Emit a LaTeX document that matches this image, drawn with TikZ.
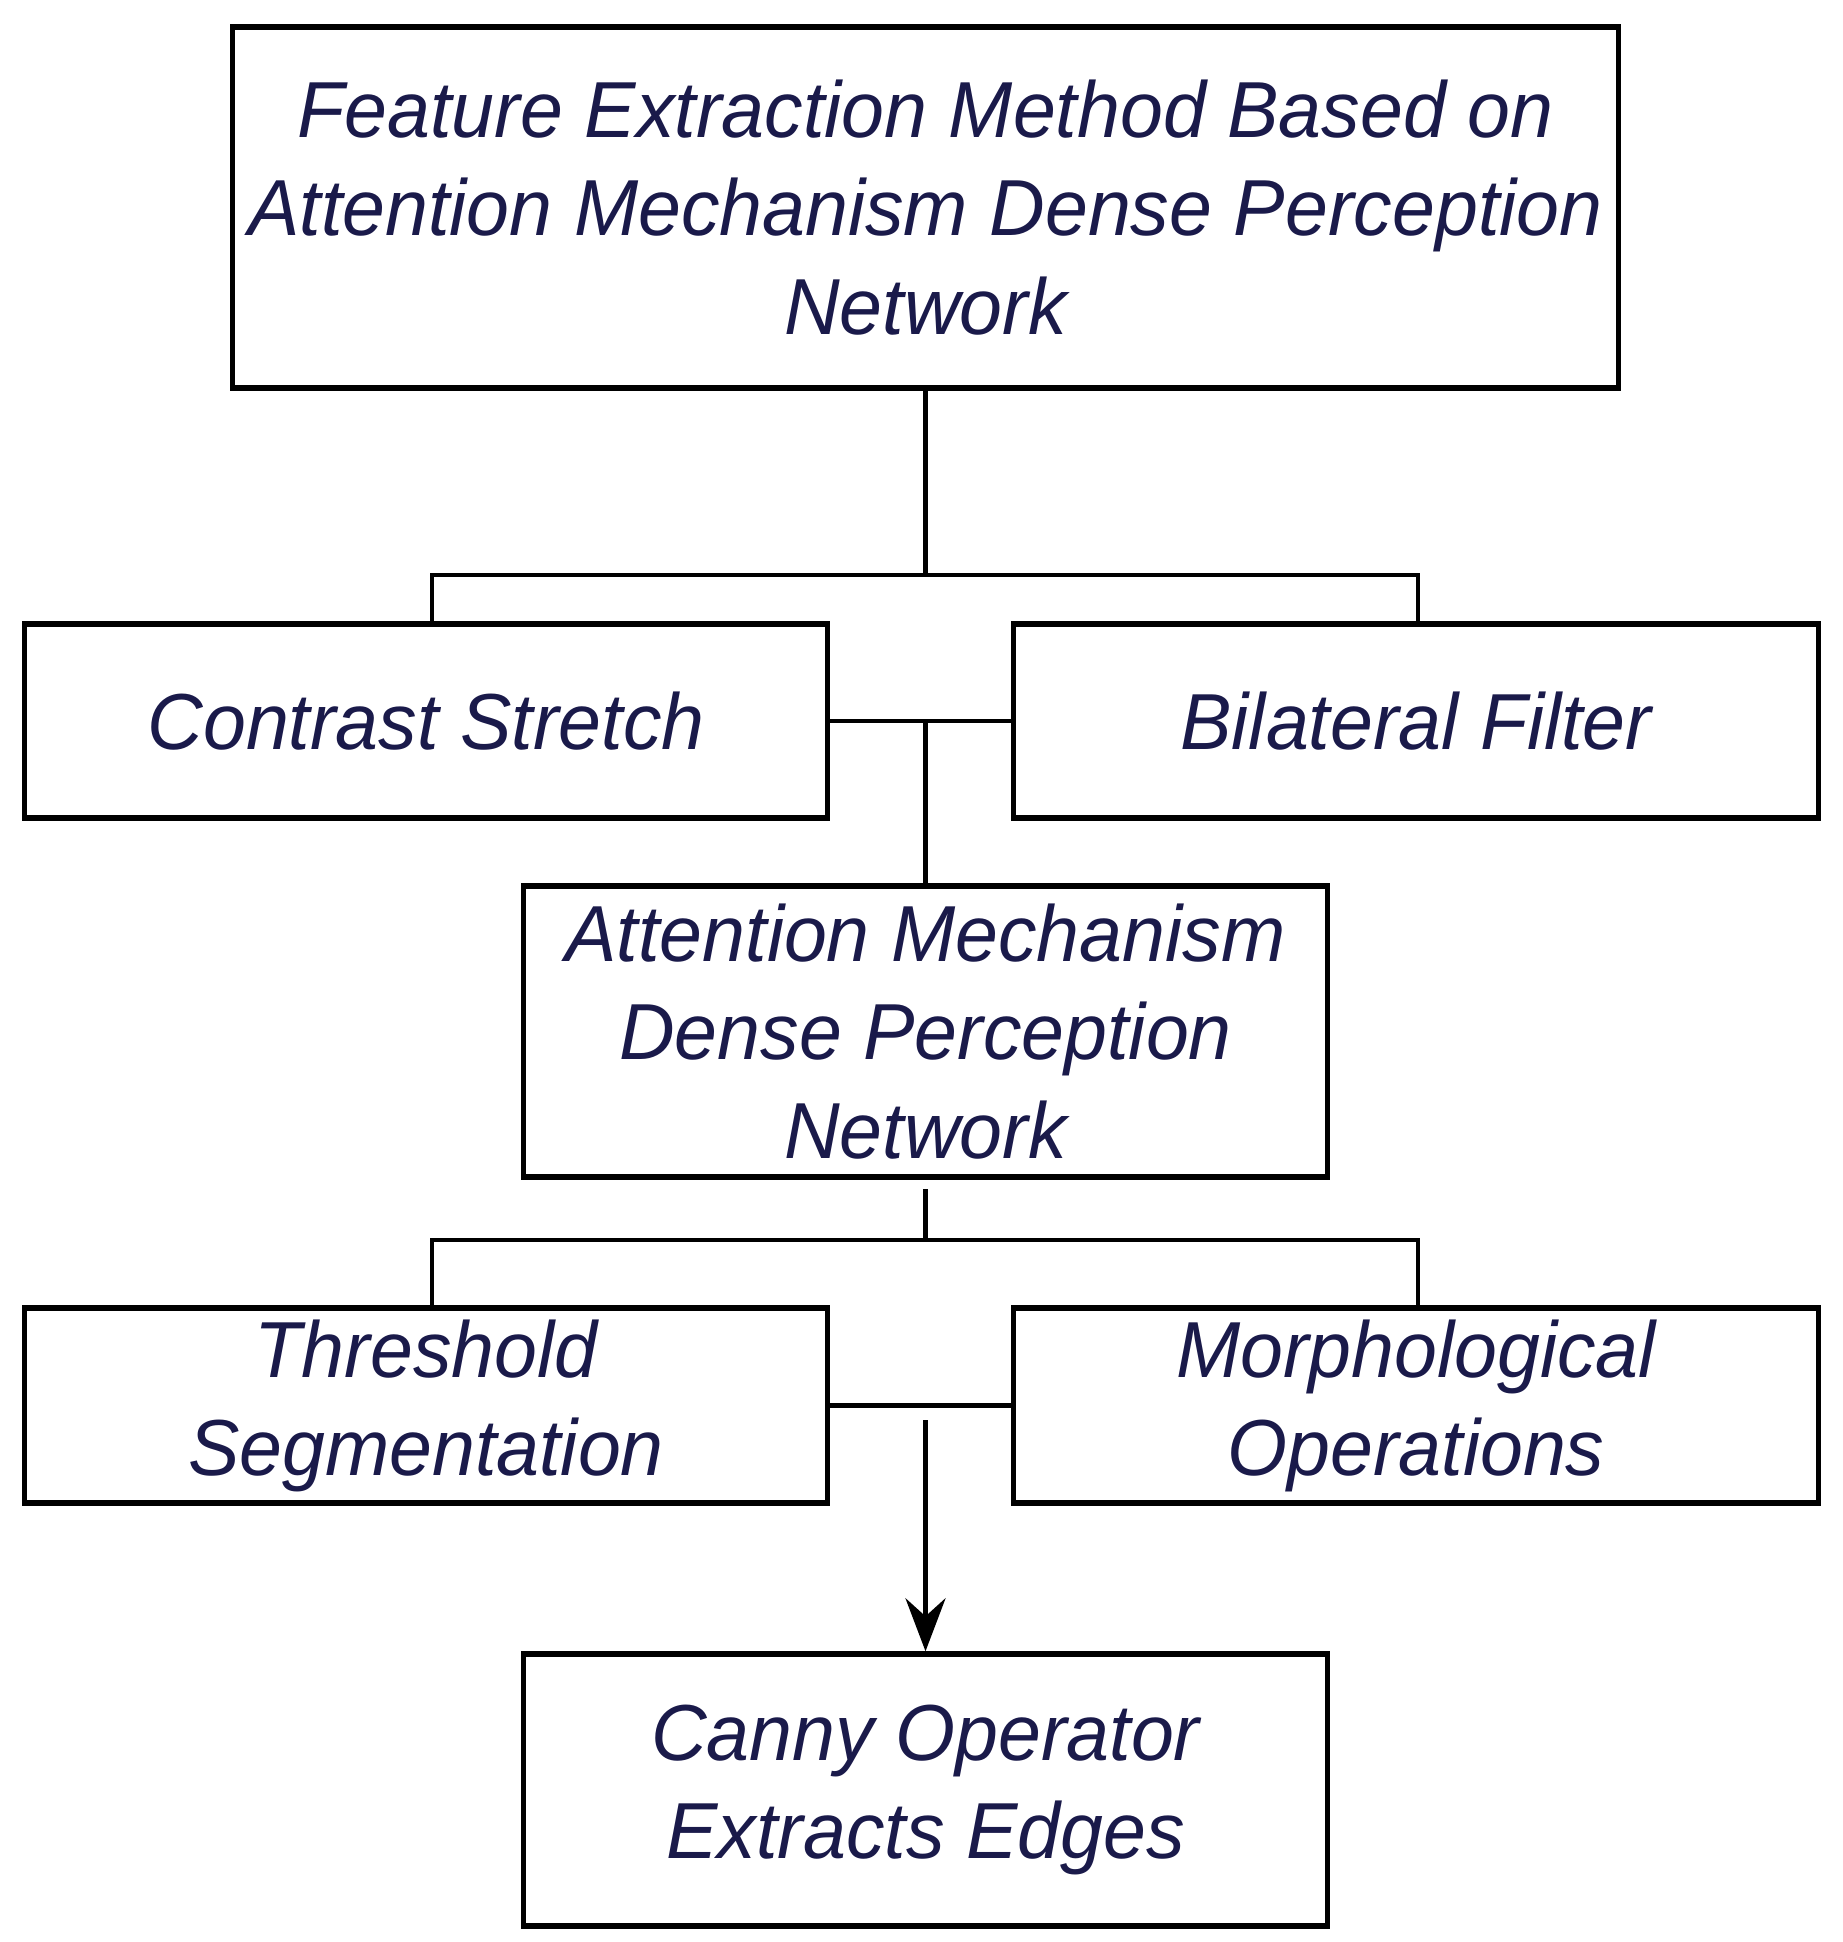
\documentclass[tikz,border=0pt]{standalone}
\usepackage{fontspec}
\setmainfont{Liberation Sans}[FakeStretch=0.97]
\usetikzlibrary{arrows.meta}
\definecolor{txt}{RGB}{26,26,74}
\begin{document}
\begin{tikzpicture}[x=0.01cm,y=-0.01cm,
  box/.style={draw=black,line width=1.5pt,inner sep=0pt,align=center,text=txt,
    font=\fontsize{22.6}{27.9}\selectfont\itshape},
  conn/.style={draw=black,line width=1.35pt},
  arr/.style={conn,-{Stealth[length=5.3mm,width=4mm,inset=1.8mm]}}]
\useasboundingbox (0,0) rectangle (1842,1942);
\node[box,minimum width=13.85cm,minimum height=3.61cm] (top) at (925.5,207.5)
  {Feature Extraction Method Based on\\Attention Mechanism Dense Perception\\Network};
\node[box,minimum width=8.02cm,minimum height=1.94cm] (cs) at (426,721) {Contrast Stretch};
\node[box,minimum width=8.04cm,minimum height=1.94cm] (bf) at (1416,721) {Bilateral Filter};
\node[box,minimum width=8.03cm,minimum height=2.91cm] (am) at (925.5,1031.5)
  {Attention Mechanism\\Dense Perception\\Network};
\node[box,minimum width=8.02cm,minimum height=1.95cm] (ts) at (426,1405.5) {Threshold\\Segmentation};
\node[box,minimum width=8.04cm,minimum height=1.95cm] (mo) at (1416,1405.5) {Morphological\\Operations};
\node[box,minimum width=8.03cm,minimum height=2.72cm] (co) at (925.5,1790)
  {Canny Operator\\Extracts Edges};
\coordinate (h1l) at (432,575);
\coordinate (h1r) at (1418,575);
\coordinate (h2l) at (432,1240);
\coordinate (h2r) at (1418,1240);
\coordinate (a3) at (925.5,1189);
\coordinate (a4) at (925.5,1420);
\draw[conn] (top.south) -- (top.south |- h1l);
\draw[conn] (cs.north -| h1l) -- (h1l) -- (h1r) -- (bf.north -| h1r);
\draw[conn] (cs.east) -- (bf.west);
\draw[conn] (cs.east -| am.north) -- (am.north);
\draw[conn] (a3) -- (a3 |- h2l);
\draw[conn] (ts.north -| h2l) -- (h2l) -- (h2r) -- (mo.north -| h2r);
\draw[conn] (ts.east) -- (mo.west);
\draw[arr] (a4) -- (co.north);
\end{tikzpicture}
\end{document}
